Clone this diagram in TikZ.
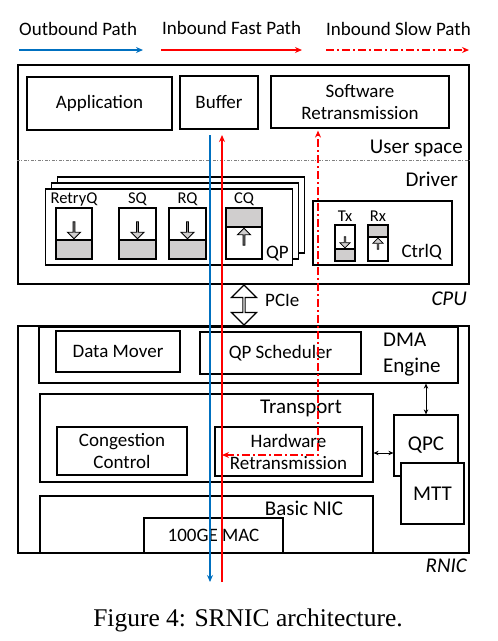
\documentclass[tikz,border=0pt]{standalone}
\usepackage{fontspec}
\setmainfont{Carlito}
\newfontfamily\capfont{Liberation Serif}
\usetikzlibrary{shapes.arrows, arrows.meta}
\definecolor{outblue}{RGB}{0,112,192}
\definecolor{inred}{RGB}{255,0,0}
\definecolor{qgray}{RGB}{208,206,206}
\tikzstyle{frame} = [rectangle, draw=black, line width=2.2pt, inner sep=0pt]
\tikzstyle{box} = [rectangle, draw=black, line width=1.2pt, fill=white, align=center, inner sep=0pt, font=\fontsize{19}{22}\selectfont]
\tikzstyle{qpart} = [rectangle, draw=black, line width=1.2pt, fill=qgray, inner sep=0pt]
\tikzstyle{big} = [inner sep=0pt, font=\fontsize{21}{26}\selectfont]
\tikzstyle{lbl} = [inner sep=0pt, font=\fontsize{19}{22}\selectfont]
\tikzstyle{small} = [inner sep=0pt, font=\fontsize{16.5}{19}\selectfont]
\tikzstyle{qarrow} = [single arrow, draw=black, line width=0.9pt, fill=qgray, inner sep=0pt, minimum height=17pt, minimum width=13pt, single arrow head extend=3pt]
\tikzstyle{carrow} = [single arrow, draw=black, line width=0.8pt, fill=qgray, inner sep=0pt, minimum height=11pt, minimum width=10pt, single arrow head extend=2.5pt]
\tikzstyle{outpath} = [outblue, line width=1.3pt, -{Stealth[length=7pt,width=6pt]}]
\tikzstyle{fastpath} = [inred, line width=1.3pt, -{Stealth[length=7pt,width=6pt]}]
\tikzstyle{slowpath} = [inred, line width=1.3pt, dash pattern=on 8pt off 3pt on 2pt off 3pt]
\tikzstyle{dbl} = [black, line width=0.9pt, {Stealth[length=5pt,width=4.5pt]}-{Stealth[length=5pt,width=4.5pt]}]
\tikzstyle{sepline} = [gray, line width=0.8pt, dash pattern=on 3pt off 1.5pt on 1pt off 1.5pt]

\begin{document}
\begin{tikzpicture}[x=1pt, y=-1pt]
\useasboundingbox (0,0) rectangle (498,641);
% legend
\node (legout) [lbl, anchor=west] at (19,29) {Outbound Path};
\node (legfast) [lbl, anchor=west] at (162,28) {Inbound Fast Path};
\node (legslow) [lbl, anchor=west] at (326,29) {Inbound Slow Path};
\coordinate (outA) at (19,50);
\coordinate (outB) at (143,50);
\coordinate (fastA) at (161,50);
\coordinate (fastB) at (302,50);
\coordinate (slowA) at (326,50);
\coordinate (slowB) at (469,50);
\draw [outpath] (outA) -- (outB);
\draw [fastpath] (fastA) -- (fastB);
\draw [slowpath, -{Stealth[length=7pt,width=6pt]}] (slowA) -- (slowB);

% CPU
\node (cpu) [frame, minimum width=451pt, minimum height=219pt] at (243.5,174.5) {};
\node (app) [box, minimum width=145pt, minimum height=53pt] at (99.5,103.5) {Application};
\node (buf) [box, minimum width=78pt, minimum height=53pt] at (219,102.5) {Buffer};
\node (swr) [box, minimum width=178pt, minimum height=52pt] at (360,102) {Software\\Retransmission};
\node (user) [big, anchor=base east] at (463,153) {User space};
\draw [sepline] (cpu.west |- 0,160) -- (cpu.east |- 0,160);
\node (driver) [big, anchor=base east] at (458,186) {Driver};

% QP stack
\node (qp3) [box, minimum width=247pt, minimum height=76pt] at (181,215) {};
\node (qp2) [box, minimum width=247pt, minimum height=76pt] at (175,221) {};
\node (qp1) [box, minimum width=247pt, minimum height=76pt] at (169,227) {};
\node (qplbl) [lbl, anchor=base east] at (289,258) {QP};

\node (rtyq) [box, minimum width=36pt, minimum height=51pt] at (74,233.5) {};
\node (rtyqg) [qpart, minimum width=36pt, minimum height=19pt, anchor=south] at (rtyq.south) {};
\node [qarrow, rotate=-90, anchor=tip] at (rtyqg.north) {};
\node (rtyqlbl) [small, anchor=base] at (74,203) {RetryQ};

\node (sq) [box, minimum width=37pt, minimum height=51pt] at (137.5,233.5) {};
\node (sqg) [qpart, minimum width=37pt, minimum height=19pt, anchor=south] at (sq.south) {};
\node [qarrow, rotate=-90, anchor=tip] at (sqg.north) {};
\node (sqlbl) [small, anchor=base] at (137.5,203) {SQ};

\node (rq) [box, minimum width=37pt, minimum height=51pt] at (187.5,233.5) {};
\node (rqg) [qpart, minimum width=37pt, minimum height=19pt, anchor=south] at (rq.south) {};
\node [qarrow, rotate=-90, anchor=tip] at (rqg.north) {};
\node (rqlbl) [small, anchor=base] at (187.5,203) {RQ};

\node (cq) [box, minimum width=36pt, minimum height=51pt] at (244,233.5) {};
\node (cqg) [qpart, minimum width=36pt, minimum height=19pt, anchor=north] at (cq.north) {};
\node [qarrow, rotate=90, anchor=tip] at (cqg.south) {};
\node (cqlbl) [small, anchor=base] at (244,203) {CQ};

% control queues
\node (ctrlq) [box, minimum width=139pt, minimum height=64pt] at (382.5,233) {};
\node (ctrllbl) [lbl, anchor=base east] at (442,257) {CtrlQ};
\node (tx) [box, minimum width=20pt, minimum height=36pt] at (345,243) {};
\node (txg) [qpart, minimum width=20pt, minimum height=12pt, anchor=south] at (tx.south) {};
\node [carrow, rotate=-90, anchor=tip] at (txg.north) {};
\node (txlbl) [small, anchor=base] at (345,221) {Tx};
\node (rx) [box, minimum width=20pt, minimum height=36pt] at (378,243) {};
\node (rxg) [qpart, minimum width=20pt, minimum height=12pt, anchor=north] at (rx.north) {};
\node [carrow, rotate=90, anchor=tip] at (rxg.south) {};
\node (rxlbl) [small, anchor=base] at (378,221) {Rx};

% PCIe
\node (pcie) [double arrow, draw=black, line width=1.1pt, fill=white, inner sep=0pt, minimum height=40pt, minimum width=25pt, double arrow head extend=5.5pt, rotate=90] at (244,305) {};
\node (pcielbl) [lbl, anchor=base west] at (265,306) {PCIe};
\node (cpulbl) [big, anchor=base east] at (467,305) {\itshape CPU};

% RNIC
\node (rnic) [frame, minimum width=451pt, minimum height=227pt] at (243.5,439.5) {};
\node (dma) [box, minimum width=419pt, minimum height=56pt] at (248.5,355) {};
\node (mover) [box, minimum width=124pt, minimum height=41pt] at (118,351.5) {Data Mover};
\node (sched) [box, minimum width=161pt, minimum height=42pt] at (280.5,353) {QP Scheduler};
\node (dmalbl) [big, align=left, anchor=west] at (383,355) {DMA\\Engine};

\node (trans) [box, minimum width=333pt, minimum height=88pt] at (206.5,438) {};
\node (translbl) [big, anchor=base] at (301,413) {Transport};
\node (cc) [box, minimum width=130pt, minimum height=48pt] at (122,451) {Congestion\\Control};
\node (hwr) [box, minimum width=147pt, minimum height=49pt] at (288.5,451.5) {Hardware\\Retransmission};

\node (qpc) [box, font=\fontsize{21}{24}\selectfont, minimum width=64pt, minimum height=61pt] at (426,445.5) {QPC};
\node (mtt) [box, font=\fontsize{21}{24}\selectfont, minimum width=63pt, minimum height=61pt] at (432.5,493.5) {MTT};

\node (nic) [box, minimum width=333pt, minimum height=57pt] at (206.5,524.5) {};
\node (niclbl) [big, anchor=base] at (304,515) {Basic NIC};
\node (mac) [box, minimum width=139pt, minimum height=35pt] at (213.5,535.5) {100GE MAC};
\node (rniclbl) [big, anchor=base east] at (467,572) {\itshape RNIC};

\draw [dbl] (qpc.north) -- (qpc.north |- dma.south);
\draw [dbl] (trans.east |- 0,453) -- (qpc.west |- 0,453);

% paths
\coordinate (outtop) at (210,135);
\coordinate (outbot) at (210,582);
\coordinate (fasttop) at (222,135);
\coordinate (fastbot) at (222,582);
\coordinate (slowturn) at (318,455);
\draw [outpath] (outtop) -- (outbot);
\draw [fastpath] (fastbot) -- (fasttop);
\draw [slowpath, {Stealth[length=7pt,width=6pt]}-{Stealth[length=7pt,width=6pt]}] (fastbot |- slowturn) -- (slowturn) -- ([yshift=-2pt]slowturn |- swr.south);

% caption
\node (caption) [inner sep=0pt, anchor=base, font=\capfont\fontsize{25.5}{30}\selectfont] at (248,626) {Figure 4: SRNIC architecture.};
\end{tikzpicture}
\end{document}
